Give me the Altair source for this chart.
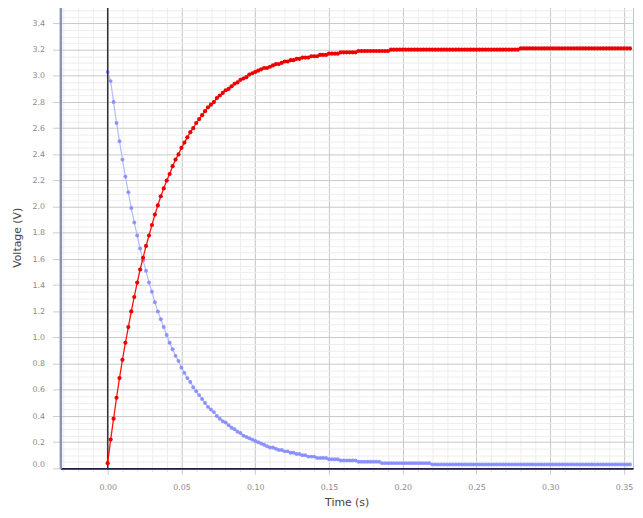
import altair as alt
import pandas as pd

# Sampled voltages (V), one sample every 0.002 s starting at t = 0
red = [
    0.04, 0.22, 0.38, 0.54, 0.69, 0.83, 0.96, 1.08, 1.20, 1.31,
    1.42, 1.52, 1.61, 1.70, 1.78, 1.86, 1.94, 2.01, 2.08, 2.14,
    2.20, 2.25, 2.31, 2.36, 2.40, 2.45, 2.49, 2.53, 2.57, 2.60,
    2.64, 2.67, 2.70, 2.73, 2.76, 2.78, 2.80, 2.83, 2.85, 2.87,
    2.89, 2.90, 2.92, 2.94, 2.95, 2.97, 2.98, 2.99, 3.01, 3.02,
    3.03, 3.04, 3.05, 3.06, 3.06, 3.07, 3.08, 3.09, 3.09, 3.10,
    3.11, 3.11, 3.12, 3.12, 3.13, 3.13, 3.14, 3.14, 3.14, 3.15,
    3.15, 3.15, 3.16, 3.16, 3.16, 3.17, 3.17, 3.17, 3.17, 3.18,
    3.18, 3.18, 3.18, 3.18, 3.18, 3.19, 3.19, 3.19, 3.19, 3.19,
    3.19, 3.19, 3.19, 3.19, 3.19, 3.19, 3.20, 3.20, 3.20, 3.20,
    3.20, 3.20, 3.20, 3.20, 3.20, 3.20, 3.20, 3.20, 3.20, 3.20,
    3.20, 3.20, 3.20, 3.20, 3.20, 3.20, 3.20, 3.20, 3.20, 3.20,
    3.20, 3.20, 3.20, 3.20, 3.20, 3.20, 3.20, 3.20, 3.20, 3.20,
    3.20, 3.20, 3.20, 3.20, 3.20, 3.20, 3.20, 3.20, 3.20, 3.20,
    3.21, 3.21, 3.21, 3.21, 3.21, 3.21, 3.21, 3.21, 3.21, 3.21,
    3.21, 3.21, 3.21, 3.21, 3.21, 3.21, 3.21, 3.21, 3.21, 3.21,
    3.21, 3.21, 3.21, 3.21, 3.21, 3.21, 3.21, 3.21, 3.21, 3.21,
    3.21, 3.21, 3.21, 3.21, 3.21, 3.21, 3.21, 3.21,
]

blue = [
    3.03, 2.96, 2.80, 2.64, 2.50, 2.36, 2.23, 2.11, 1.99, 1.88,
    1.78, 1.68, 1.59, 1.51, 1.42, 1.35, 1.27, 1.20, 1.14, 1.08,
    1.02, 0.96, 0.91, 0.86, 0.82, 0.77, 0.73, 0.69, 0.66, 0.62,
    0.59, 0.56, 0.53, 0.50, 0.47, 0.45, 0.43, 0.40, 0.38, 0.36,
    0.35, 0.33, 0.31, 0.30, 0.28, 0.27, 0.25, 0.24, 0.23, 0.22,
    0.21, 0.20, 0.19, 0.18, 0.17, 0.16, 0.16, 0.15, 0.14, 0.14,
    0.13, 0.13, 0.12, 0.12, 0.11, 0.11, 0.10, 0.10, 0.09, 0.09,
    0.09, 0.08, 0.08, 0.08, 0.08, 0.07, 0.07, 0.07, 0.07, 0.06,
    0.06, 0.06, 0.06, 0.06, 0.06, 0.05, 0.05, 0.05, 0.05, 0.05,
    0.05, 0.05, 0.05, 0.04, 0.04, 0.04, 0.04, 0.04, 0.04, 0.04,
    0.04, 0.04, 0.04, 0.04, 0.04, 0.04, 0.04, 0.04, 0.04, 0.04,
    0.03, 0.03, 0.03, 0.03, 0.03, 0.03, 0.03, 0.03, 0.03, 0.03,
    0.03, 0.03, 0.03, 0.03, 0.03, 0.03, 0.03, 0.03, 0.03, 0.03,
    0.03, 0.03, 0.03, 0.03, 0.03, 0.03, 0.03, 0.03, 0.03, 0.03,
    0.03, 0.03, 0.03, 0.03, 0.03, 0.03, 0.03, 0.03, 0.03, 0.03,
    0.03, 0.03, 0.03, 0.03, 0.03, 0.03, 0.03, 0.03, 0.03, 0.03,
    0.03, 0.03, 0.03, 0.03, 0.03, 0.03, 0.03, 0.03, 0.03, 0.03,
    0.03, 0.03, 0.03, 0.03, 0.03, 0.03, 0.03, 0.03,
]

SAMPLE_DT = 0.002
times = [round(i * SAMPLE_DT, 3) for i in range(len(red))]

x_major = [0.00, 0.05, 0.10, 0.15, 0.20, 0.25, 0.30, 0.35]
x_minor = [-0.03, -0.02, -0.01, 0.00, 0.01, 0.02, 0.03, 0.04, 0.05, 0.06,
           0.07, 0.08, 0.09, 0.10, 0.11, 0.12, 0.13, 0.14, 0.15, 0.16,
           0.17, 0.18, 0.19, 0.20, 0.21, 0.22, 0.23, 0.24, 0.25, 0.26,
           0.27, 0.28, 0.29, 0.30, 0.31, 0.32, 0.33, 0.34, 0.35]
y_major = [0.0, 0.2, 0.4, 0.6, 0.8, 1.0, 1.2, 1.4, 1.6, 1.8,
           2.0, 2.2, 2.4, 2.6, 2.8, 3.0, 3.2, 3.4]
y_minor = [0.05, 0.10, 0.15, 0.25, 0.30, 0.35, 0.45, 0.50, 0.55,
           0.65, 0.70, 0.75, 0.85, 0.90, 0.95, 1.05, 1.10, 1.15,
           1.25, 1.30, 1.35, 1.45, 1.50, 1.55, 1.65, 1.70, 1.75,
           1.85, 1.90, 1.95, 2.05, 2.10, 2.15, 2.25, 2.30, 2.35,
           2.45, 2.50, 2.55, 2.65, 2.70, 2.75, 2.85, 2.90, 2.95,
           3.05, 3.10, 3.15, 3.25, 3.30, 3.35, 3.45, 3.50]

df_red = pd.DataFrame({"t": times, "v": red})
df_blue = pd.DataFrame({"t": times, "v": blue})
df_zero = pd.DataFrame({"t": [0.0]})

xscale = alt.Scale(domain=[-0.0321, 0.3561], nice=False, zero=False)
yscale = alt.Scale(domain=[0, 3.532], nice=False, zero=False)

FONT = "DejaVu Sans"

minor_x_axis = alt.Axis(values=x_minor, grid=True, gridColor="#ededed", gridWidth=1,
                        labels=False, ticks=True, tickSize=3, tickColor="#dddddd",
                        domain=False, title=None, orient="bottom")
minor_y_axis = alt.Axis(values=y_minor, grid=True, gridColor="#ededed", gridWidth=1,
                        labels=False, ticks=False, domain=False, title=None, orient="left")

major_x_axis = alt.Axis(values=x_major, grid=True, gridColor="#c8c8c8", gridWidth=1,
                        format=".2f", labelFont=FONT, labelFontSize=8, labelColor="#888888",
                        labelPadding=9, ticks=True, tickSize=6, tickColor="#cccccc",
                        domain=True, domainColor="#1e1e4a", domainWidth=2,
                        title="Time (s)", titleFont=FONT, titleFontSize=11,
                        titleFontWeight="normal", titleColor="#444444",
                        titleY=35, titleBaseline="middle", orient="bottom")
major_y_axis = alt.Axis(values=y_major, grid=True, gridColor="#c8c8c8", gridWidth=1,
                        format=".1f", labelFont=FONT, labelFontSize=8, labelColor="#888888",
                        labelPadding=8, labelFlush=True, ticks=True, tickSize=8,
                        tickColor="#cccccc", domain=True, domainColor="#8a94b4",
                        domainWidth=2.5, title="Voltage (V)", titleFont=FONT,
                        titleFontSize=11, titleFontWeight="normal", titleColor="#444444",
                        titleX=-43, titleY=234, titleAngle=-90, titleAlign="center",
                        titleBaseline="middle", orient="left")

minor_layer = alt.Chart(df_blue).mark_line(opacity=0).encode(
    x=alt.X("t:Q", scale=xscale, axis=minor_x_axis),
    y=alt.Y("v:Q", scale=yscale, axis=minor_y_axis),
)

blue_line = alt.Chart(df_blue).mark_line(color="#b4baff", strokeWidth=1.2).encode(
    x=alt.X("t:Q", scale=xscale, axis=major_x_axis),
    y=alt.Y("v:Q", scale=yscale, axis=major_y_axis),
)

blue_pts = alt.Chart(df_blue).mark_circle(color="#7f87ff", opacity=0.85, size=16).encode(
    x=alt.X("t:Q", scale=xscale, axis=None),
    y=alt.Y("v:Q", scale=yscale, axis=None),
)

zero_rule = alt.Chart(df_zero).mark_rule(color="#333333", strokeWidth=1.5).encode(
    x=alt.X("t:Q", scale=xscale, axis=None),
)

red_line = alt.Chart(df_red).mark_line(color="#ff1010", strokeWidth=1.3).encode(
    x=alt.X("t:Q", scale=xscale, axis=None),
    y=alt.Y("v:Q", scale=yscale, axis=None),
)

red_pts = alt.Chart(df_red).mark_circle(color="#ee0000", opacity=1, size=18).encode(
    x=alt.X("t:Q", scale=xscale, axis=None),
    y=alt.Y("v:Q", scale=yscale, axis=None),
)

chart = alt.layer(
    minor_layer, blue_line, blue_pts, zero_rule, red_line, red_pts
).resolve_axis(
    x="independent", y="independent"
).properties(
    width=580,
    height=468,
    autosize=alt.AutoSizeParams(type="none"),
    padding={"left": 53, "top": -5, "right": 2, "bottom": 47},
    background="white",
).configure_view(
    stroke="#b4c0ee", strokeWidth=1
)

chart.save("out.html", embed_options={"renderer": "svg", "actions": False})
